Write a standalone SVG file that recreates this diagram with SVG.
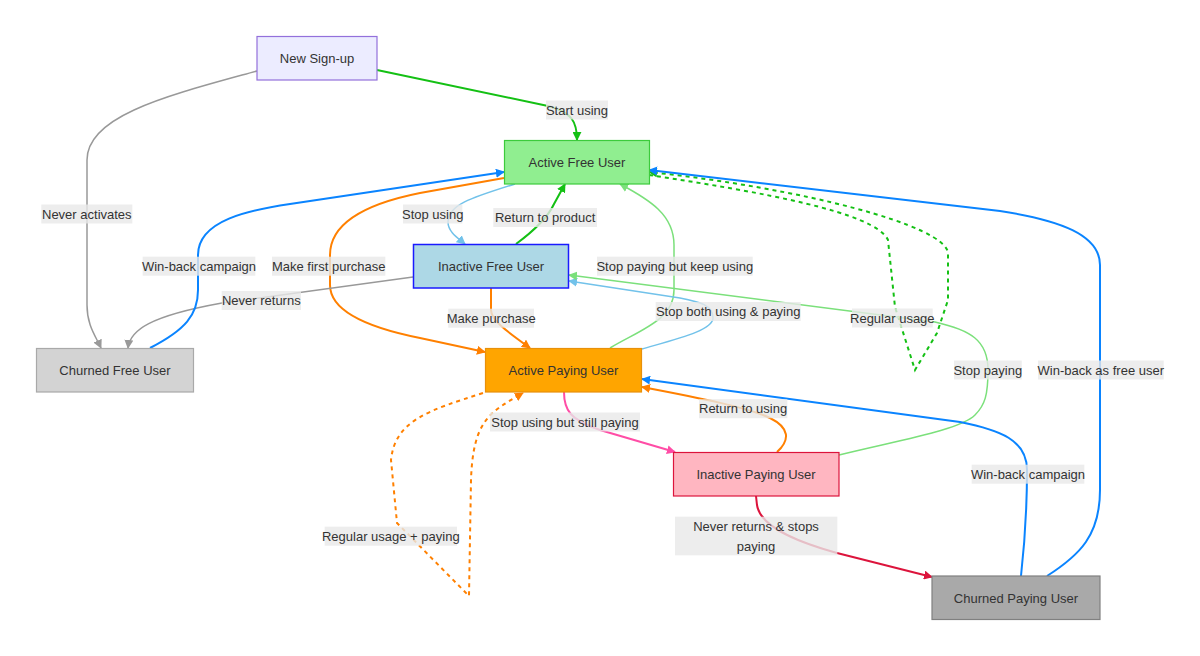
<svg xmlns="http://www.w3.org/2000/svg" width="1200" height="656" viewBox="0 0 1200 656">
<style>
  text { font-family: "Liberation Sans", Arial, sans-serif; font-size: 13px; fill: #333; text-anchor: middle; dominant-baseline: central; }
  .node rect { stroke-width: 1.2; }
  .edge { fill: none; stroke-width: 2; }
  .thin { stroke-width: 1.5; }
  .dash { stroke-dasharray: 4 4; }
  .lbl rect { fill: rgba(232,232,232,0.8); }
  .g { stroke: #14c014; } .gr { stroke: #999999; } .sb { stroke: #72c2ea; } .or { stroke: #ff8000; }
  .bl { stroke: #0a84ff; } .lg { stroke: #7be07b; } .pk { stroke: #ff4da6; } .cr { stroke: #dc143c; }
</style>
<defs>
  <marker id="a-g" viewBox="0 0 10 10" refX="9" refY="5" markerUnits="userSpaceOnUse" markerWidth="9" markerHeight="9" orient="auto"><path d="M0,0 L10,5 L0,10 z" fill="#14c014"/></marker>
  <marker id="a-gr" viewBox="0 0 10 10" refX="9" refY="5" markerUnits="userSpaceOnUse" markerWidth="9" markerHeight="9" orient="auto"><path d="M0,0 L10,5 L0,10 z" fill="#999999"/></marker>
  <marker id="a-sb" viewBox="0 0 10 10" refX="9" refY="5" markerUnits="userSpaceOnUse" markerWidth="9" markerHeight="9" orient="auto"><path d="M0,0 L10,5 L0,10 z" fill="#72c2ea"/></marker>
  <marker id="a-or" viewBox="0 0 10 10" refX="9" refY="5" markerUnits="userSpaceOnUse" markerWidth="9" markerHeight="9" orient="auto"><path d="M0,0 L10,5 L0,10 z" fill="#ff8000"/></marker>
  <marker id="a-bl" viewBox="0 0 10 10" refX="9" refY="5" markerUnits="userSpaceOnUse" markerWidth="9" markerHeight="9" orient="auto"><path d="M0,0 L10,5 L0,10 z" fill="#0a84ff"/></marker>
  <marker id="a-lg" viewBox="0 0 10 10" refX="9" refY="5" markerUnits="userSpaceOnUse" markerWidth="9" markerHeight="9" orient="auto"><path d="M0,0 L10,5 L0,10 z" fill="#7be07b"/></marker>
  <marker id="a-pk" viewBox="0 0 10 10" refX="9" refY="5" markerUnits="userSpaceOnUse" markerWidth="9" markerHeight="9" orient="auto"><path d="M0,0 L10,5 L0,10 z" fill="#ff4da6"/></marker>
  <marker id="a-cr" viewBox="0 0 10 10" refX="9" refY="5" markerUnits="userSpaceOnUse" markerWidth="9" markerHeight="9" orient="auto"><path d="M0,0 L10,5 L0,10 z" fill="#dc143c"/></marker>
</defs>
<rect width="1200" height="656" fill="#ffffff"/>

<g id="connectors">
  <path class="edge g" d="M377,70 L548,106 C572,112 577,122 577,140" marker-end="url(#a-g)"/>
  <path class="edge gr thin" d="M257,71 C170,95 87,115 87,160 L87,305 C87,325 95,335 101,348" marker-end="url(#a-gr)"/>
  <path class="edge sb thin" d="M515,184 C470,198 448,205 448,222 C448,232 458,238 465,244" marker-end="url(#a-sb)"/>
  <path class="edge g" d="M516,244 C535,230 548,217 554,204 L565,184" marker-end="url(#a-g)"/>
  <path class="edge or" d="M504,178 L420,193 C360,205 330,225 330,255 L330,285 C330,315 380,330 420,338 L485,352" marker-end="url(#a-or)"/>
  <path class="edge gr thin" d="M413,277 L222,303 C150,316 130,330 128,348" marker-end="url(#a-gr)"/>
  <path class="edge bl" d="M150,348 C185,330 198,315 198,290 L198,255 C198,220 250,210 290,204 L504,172" marker-end="url(#a-bl)"/>
  <path class="edge or" d="M491,288 L491,310 C491,320 505,330 530,348" marker-end="url(#a-or)"/>
  <path class="edge lg thin" d="M610,348 C640,330 674,320 674,290 L674,245 C674,215 650,200 620,184" marker-end="url(#a-lg)"/>
  <path class="edge sb thin" d="M642,349 C680,338 713,330 713,318 C713,305 700,302 680,298 L569,281" marker-end="url(#a-sb)"/>
  <path class="edge g dash" d="M649,175 C760,192 875,212 888,240 L895,307 L915,370 L937,333 L948,300 L948,253 C945,225 800,188 649,172" marker-end="url(#a-g)"/>
  <path class="edge or dash" d="M483,393 C430,410 395,420 391,460 L397,523 L469,596 L471,480 C473,420 490,412 523,393" marker-end="url(#a-or)"/>
  <path class="edge pk" d="M564,392 C564,410 570,420 600,430 L675,452" marker-end="url(#a-pk)"/>
  <path class="edge or" d="M777,452 C790,440 790,428 770,418 C750,408 700,398 642,387" marker-end="url(#a-or)"/>
  <path class="edge lg thin" d="M839,455 C900,440 960,430 975,415 C985,405 988,395 988,370 C988,340 970,330 935,322 L569,275" marker-end="url(#a-lg)"/>
  <path class="edge cr" d="M756,496 L757,505 C760,525 790,540 837,553 L932,577" marker-end="url(#a-cr)"/>
  <path class="edge bl" d="M1021,576 C1025,540 1027,500 1027,470 C1027,440 1000,430 960,422 L642,379" marker-end="url(#a-bl)"/>
  <path class="edge bl" d="M1047,576 C1080,555 1100,535 1100,490 L1100,265 C1100,235 1060,220 1000,211 L649,170" marker-end="url(#a-bl)"/>
</g>

<g id="edge-labels">
  <g class="lbl"><rect x="546" y="100.5" width="62" height="19"/><text x="577" y="110">Start using</text></g>
  <g class="lbl"><rect x="41.3" y="204.5" width="91" height="19"/><text x="86.8" y="214">Never activates</text></g>
  <g class="lbl"><rect x="403" y="204.5" width="59.3" height="19"/><text x="432.7" y="214">Stop using</text></g>
  <g class="lbl"><rect x="493.3" y="208" width="103.7" height="19"/><text x="545.2" y="217.5">Return to product</text></g>
  <g class="lbl"><rect x="272" y="256.7" width="113.3" height="19"/><text x="328.7" y="266.2">Make first purchase</text></g>
  <g class="lbl"><rect x="142.7" y="256.7" width="112.6" height="19"/><text x="199" y="266.2">Win-back campaign</text></g>
  <g class="lbl"><rect x="597" y="256.7" width="155.7" height="19"/><text x="674.8" y="266.2">Stop paying but keep using</text></g>
  <g class="lbl"><rect x="221.7" y="291" width="79.3" height="19"/><text x="261.3" y="300.5">Never returns</text></g>
  <g class="lbl"><rect x="448.3" y="308.7" width="85.7" height="19"/><text x="491.2" y="318.2">Make purchase</text></g>
  <g class="lbl"><rect x="655.7" y="302" width="145" height="19"/><text x="728.2" y="311.5">Stop both using &amp; paying</text></g>
  <g class="lbl"><rect x="852" y="308.5" width="80.7" height="19"/><text x="892.3" y="318">Regular usage</text></g>
  <g class="lbl"><rect x="954" y="360.5" width="67.7" height="19"/><text x="987.8" y="370">Stop paying</text></g>
  <g class="lbl"><rect x="1038" y="360.5" width="125.7" height="19"/><text x="1100.8" y="370">Win-back as free user</text></g>
  <g class="lbl"><rect x="699" y="399.2" width="88.3" height="19"/><text x="743.1" y="408.7">Return to using</text></g>
  <g class="lbl"><rect x="490" y="412.5" width="150" height="19"/><text x="565" y="422">Stop using but still paying</text></g>
  <g class="lbl"><rect x="971.7" y="464.7" width="112.6" height="19"/><text x="1028" y="474.2">Win-back campaign</text></g>
  <g class="lbl"><rect x="324.7" y="526.7" width="132.3" height="19"/><text x="390.8" y="536.2">Regular usage + paying</text></g>
  <g class="lbl"><rect x="675" y="516.7" width="162.3" height="38.6"/><text x="756" y="526.5">Never returns &amp; stops</text><text x="756" y="546">paying</text></g>
</g>

<g id="node-new-signup" class="node"><rect x="257" y="36.5" width="120" height="43.5" fill="#ececff" stroke="#9370db"/><text x="317" y="58">New Sign-up</text></g>
<g id="node-active-free" class="node"><rect x="504.5" y="140.5" width="145" height="43.5" fill="#90ee90" stroke="#3ccb3c"/><text x="577" y="162">Active Free User</text></g>
<g id="node-inactive-free" class="node"><rect x="413.5" y="244.5" width="155" height="43.5" fill="#add8e6" stroke="#1a1aff" style="stroke-width:1.5"/><text x="491" y="266">Inactive Free User</text></g>
<g id="node-active-paying" class="node"><rect x="485.5" y="348.5" width="156" height="43.5" fill="#ffa500" stroke="#e8900a"/><text x="563.5" y="370">Active Paying User</text></g>
<g id="node-inactive-paying" class="node"><rect x="673.5" y="452.5" width="165.5" height="43.5" fill="#ffb6c1" stroke="#dc143c"/><text x="756" y="474">Inactive Paying User</text></g>
<g id="node-churned-free" class="node"><rect x="36.5" y="348.5" width="157" height="43.5" fill="#d3d3d3" stroke="#a9a9a9"/><text x="115" y="370">Churned Free User</text></g>
<g id="node-churned-paying" class="node"><rect x="932" y="576" width="168" height="43.5" fill="#a9a9a9" stroke="#808080"/><text x="1016" y="598">Churned Paying User</text></g>
</svg>
